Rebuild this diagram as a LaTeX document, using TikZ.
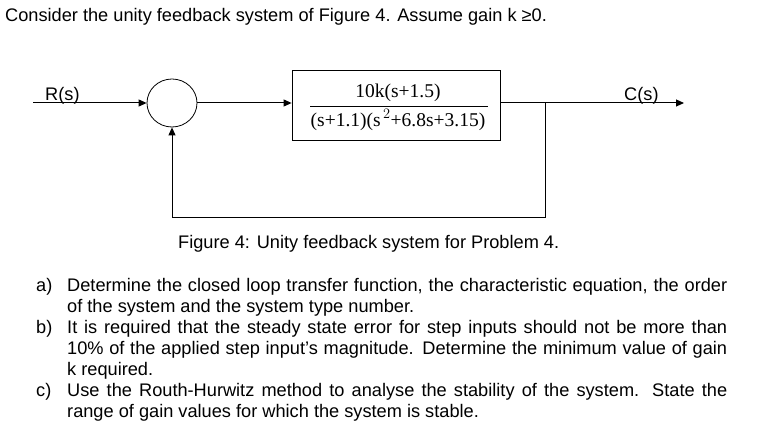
\documentclass[tikz,border=0pt]{standalone}
\usepackage{fontspec}
\setmainfont{Liberation Sans}
\newfontfamily\tnr{Liberation Serif}
\usetikzlibrary{arrows.meta,shapes.geometric}
\begin{document}
\begin{tikzpicture}[x=1pt,y=-1pt,
  line/.style={line width=1pt},
  arr/.style={line, -{Triangle[length=8pt,width=7pt]}},
  txt/.style={inner sep=0pt, anchor=base west, font=\fontsize{18.2}{20}\selectfont},
  jl/.style={txt}]
\useasboundingbox (0,0) rectangle (764,435);
\node[txt] (title) at (5,22) {Consider the unity feedback system of Figure 4. Assume gain k ≥0.};
\node[draw, ellipse, line width=0.8pt, minimum width=50pt, minimum height=48pt, inner sep=0pt] (sum) at (172,103) {};
\coordinate (rin) at (33,103);
\node[txt, anchor=base west] (R) at (45,101) {R(s)};
\node[draw, line width=0.8pt, minimum width=208pt, minimum height=70pt] (G) at (396,105) {};
\node[inner sep=0pt, font=\tnr\fontsize{19.5}{22}\selectfont] (num) at (398,93) {10k(s+1.5)};
\node[inner sep=0pt, font=\tnr\fontsize{19.5}{22}\selectfont] (den) at (398,120) {(s+1.1)(s$^{\,2}$+6.8s+3.15)};
\draw[line width=0.6pt] (310,106) -- (488,106);
\coordinate (br) at (545,103);
\coordinate (out) at (684,103);
\node[txt] (C) at (624,101) {C(s)};
\coordinate (fb1) at (545,218);
\coordinate (fb2) at (172,218);
\draw[arr] (rin) -- (sum.west);
\draw[arr] (sum.east) -- (G.west |- sum.east);
\draw[arr] (G.east |- br) -- (out);
\draw[arr] (br) -- (fb1) -- (fb2) -- (sum.south);
\node[txt] (cap) at (178,249) {Figure 4: Unity feedback system for Problem 4.};
\node[jl] (la) at (36,292) {a)};
\node[jl] (a1) at (67,292) {\makebox[660pt][s]{Determine the closed loop transfer function, the characteristic equation, the order}};
\node[jl] (a2) at (67,313) {of the system and the system type number.};
\node[jl] (lb) at (36,334) {b)};
\node[jl] (b1) at (67,334) {\makebox[660pt][s]{It is required that the steady state error for step inputs should not be more than}};
\node[jl] (b2) at (67,355) {\makebox[660pt][s]{10\% of the applied step input’s magnitude. Determine the minimum value of gain}};
\node[jl] (b3) at (67,376) {k required.};
\node[jl] (lc) at (36,397) {c)};
\node[jl] (c1) at (67,397) {\makebox[660pt][s]{Use the Routh-Hurwitz method to analyse the stability of the system. State the}};
\node[jl] (c2) at (67,418) {range of gain values for which the system is stable.};
\end{tikzpicture}
\end{document}
